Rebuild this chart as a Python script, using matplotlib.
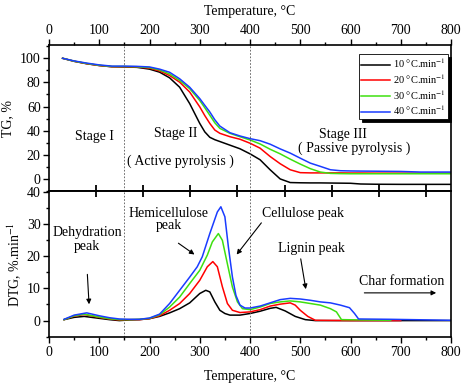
import numpy as np
import matplotlib
matplotlib.use('Agg')
import matplotlib.pyplot as plt
from matplotlib.ticker import MultipleLocator

plt.rcParams['font.family'] = ['Liberation Serif', 'DejaVu Serif']
plt.rcParams['mathtext.fontset'] = 'stix'

# %% Datos
rates = ['10', '20', '30', '40']
colores = ['#000000', '#ff0000', '#3ee010', '#1a3cff']

# TG (%)
T_tg = [27, 50, 75, 100, 125, 150, 175, 200, 220, 240, 260, 280, 300, 310, 320, 330, 340,
        360, 380, 400, 420, 440, 460, 480, 500, 520, 540, 560, 580, 600, 620, 650, 700, 740, 800]
tg_10 = [100, 97.5, 95.5, 94, 93, 92.8, 92.5, 91, 88.5, 83.8, 76, 62.4, 46, 39, 34.5, 32.5, 31,
         28, 25, 20.8, 15.9, 7.6, 0, -3, -3.2, -3.3, -3.3, -3.4, -3.5, -3.6, -4.2, -4.4, -4.5, -4.5, -4.5]
tg_20 = [100, 97.5, 95.5, 94, 93, 93, 92.8, 91.8, 89.5, 85.7, 80.2, 72, 59.7, 52.5, 46, 40.5, 37.8,
         35, 32.9, 29.6, 25.5, 18.6, 12.6, 7.6, 5.2, 5, 5, 5, 5, 4.9, 4.9, 4.8, 4.8, 4.8, 4.8]
tg_30 = [100, 97.6, 95.7, 94.2, 93.2, 93.2, 93, 92.3, 90.3, 87, 81.6, 74.8, 65, 59, 52.8, 46.5, 41.9,
         37.8, 35, 32.3, 29, 24.6, 20.8, 16.4, 12.3, 8.5, 5.7, 4.6, 4.4, 4.3, 4.3, 4.3, 4.3, 4.3, 4.3]
tg_40 = [100, 97.8, 96, 94.5, 93.5, 93.5, 93.3, 92.8, 91, 88.4, 83, 76, 66.6, 61, 55.5, 49, 43.8,
         38.3, 35.6, 33.4, 31.7, 28.8, 24.9, 21.4, 17.2, 13.1, 10.4, 7.6, 6.8, 6.6, 6.5, 6.4, 6.2, 5.7, 5.7]

# DTG (%/min)
T_d10 = [30, 50, 70, 100, 120, 140, 160, 180, 200, 220, 240, 260, 280, 300, 312, 320, 330, 340,
         350, 360, 380, 400, 420, 440, 452, 470, 490, 510, 530, 600, 700, 800]
dtg_10 = [0.3, 1.0, 1.3, 0.7, 0.3, 0.0, 0.2, 0.3, 0.6, 1.3, 2.4, 3.7, 5.5, 8.4, 9.4, 8.9, 5.8, 3.2,
          2.2, 1.7, 1.7, 2.2, 2.9, 3.8, 4.1, 3.0, 1.3, 0.3, 0.0, 0.0, 0.0, 0.0]
T_d20 = [30, 50, 70, 100, 120, 140, 160, 180, 200, 220, 240, 260, 280, 300, 315, 326, 335, 345,
         355, 365, 380, 400, 420, 440, 460, 480, 490, 500, 515, 530, 600, 700]
dtg_20 = [0.3, 1.4, 1.9, 1.0, 0.5, 0.2, 0.3, 0.3, 0.6, 1.5, 3.2, 5.3, 8.4, 12.5, 16.7, 18.3, 16.7, 10.5,
          5.3, 3.2, 2.5, 2.7, 3.4, 4.5, 5.1, 5.5, 4.8, 3.2, 1.3, 0.1, 0.0, 0.0]
T_d30 = [30, 50, 70, 100, 120, 140, 160, 180, 200, 220, 240, 260, 280, 300, 315, 325, 337, 345,
         355, 365, 375, 385, 400, 420, 440, 460, 480, 500, 520, 540, 560, 572, 582, 620, 680]
dtg_30 = [0.3, 1.5, 2.0, 1.1, 0.6, 0.3, 0.3, 0.4, 0.7, 1.8, 4.2, 7.3, 11.5, 15.6, 20.3, 24.4, 27.0, 24.9,
          17.6, 10.4, 5.8, 3.7, 3.4, 4.2, 5.3, 5.8, 6.1, 5.8, 5.3, 4.8, 3.7, 2.7, 0.3, 0.2, 0.1]
T_d40 = [30, 50, 75, 100, 120, 140, 160, 180, 200, 220, 240, 260, 280, 295, 305, 320, 335, 342,
         350, 357, 365, 372, 380, 390, 400, 420, 440, 460, 480, 500, 520, 540, 560, 580, 598, 608,
         616, 680, 800]
dtg_40 = [0.4, 1.7, 2.4, 1.5, 0.9, 0.5, 0.4, 0.4, 0.8, 2.0, 5.3, 9.4, 13.5, 16.7, 19.8, 27.0, 33.7, 35.3,
          32.2, 22.8, 13.5, 7.8, 4.8, 3.9, 3.9, 4.5, 5.5, 6.5, 6.9, 6.7, 6.3, 5.8, 5.5, 4.8, 4.0, 2.2,
          0.5, 0.4, 0.1]

tg_series = [tg_10, tg_20, tg_30, tg_40]
dtg_T = [T_d10, T_d20, T_d30, T_d40]
dtg_series = [dtg_10, dtg_20, dtg_30, dtg_40]

# marcas raras del borde entre paneles
ticks_medio = [93, 187, 281, 375, 469, 563, 657, 751]

# %% Graficos
fig = plt.figure(figsize=(4.74, 3.86), dpi=100)
ax1 = fig.add_axes([0.1034, 0.5052, 0.8481, 0.3782])
ax2 = fig.add_axes([0.1034, 0.1260, 0.8481, 0.3792])

for tg, c, r in zip(tg_series, colores, rates):
    ax1.plot(T_tg, tg, color=c, lw=1.1, label=r + r' °C.min$^{-1}$')
for T, d, c in zip(dtg_T, dtg_series, colores):
    ax2.plot(T, d, color=c, lw=1.1)

for ax in (ax1, ax2):
    ax.set_xlim(0, 800)
    for xv in (150, 400):
        ax.axvline(xv, color='#555555', lw=0.6, ls=(0, (2, 2)))
    for s in ax.spines.values():
        s.set_linewidth(1.2)
    ax.tick_params(which='both', direction='out', width=1.0, labelsize=10, pad=2)
    ax.tick_params(which='major', length=4)
    ax.tick_params(which='minor', length=2)
    ax.xaxis.set_major_locator(MultipleLocator(100))
    ax.xaxis.set_minor_locator(MultipleLocator(50))

ax1.set_ylim(-10, 111)
ax1.yaxis.set_major_locator(MultipleLocator(20))
ax1.yaxis.set_minor_locator(MultipleLocator(10))
ax1.xaxis.tick_top()
ax1.xaxis.set_label_position('top')
ax1.set_xlabel('Temperature, °C', fontsize=10, labelpad=6)
ax1.set_ylabel('TG, %', fontsize=10, labelpad=4)

ax2.set_ylim(-5.2, 40.2)
ax2.yaxis.set_major_locator(MultipleLocator(10))
ax2.yaxis.set_minor_locator(MultipleLocator(5))
ax2.set_xlabel('Temperature, °C', fontsize=10, labelpad=8)
ax2.set_ylabel('DTG, %.min$^{-1}$', fontsize=10, labelpad=2)

sec = ax2.secondary_xaxis('top')
sec.set_xticks(ticks_medio)
sec.set_xticklabels([])
sec.tick_params(direction='inout', length=8, width=1.3)
sec.spines['top'].set_linewidth(1.2)

leg = ax1.legend(loc='upper right', bbox_to_anchor=(0.993, 0.935), fontsize=7.5,
                 frameon=True, fancybox=False, shadow={'color': 'black', 'alpha': 1},
                 edgecolor='black', framealpha=1, handlelength=2.8,
                 borderpad=0.2, labelspacing=0.2, handletextpad=0.3, borderaxespad=0)
leg.get_frame().set_linewidth(0.6)

# textos panel TG
fs = 10
ax1.text(91, 35, 'Stage I', ha='center', va='center', fontsize=fs)
ax1.text(252, 38, 'Stage II', ha='center', va='center', fontsize=fs)
ax1.text(261, 15, '( Active pyrolysis )', ha='center', va='center', fontsize=fs)
ax1.text(584, 37, 'Stage III', ha='center', va='center', fontsize=fs)
ax1.text(608, 25.5, '( Passive pyrolysis )', ha='center', va='center', fontsize=fs)

# textos panel DTG
flecha = dict(arrowstyle='-|>', color='black', lw=0.8, mutation_scale=7)
ax2.text(76, 25.3, 'Dehydration\npeak', ha='center', va='center', fontsize=fs, linespacing=1.1)
ax2.annotate('', xy=(80, 4.2), xytext=(76, 15.2), arrowprops=flecha)
ax2.text(238, 31.5, 'Hemicellulose\npeak', ha='center', va='center', fontsize=fs, linespacing=0.9)
ax2.annotate('', xy=(294, 20), xytext=(253, 24.5), arrowprops=flecha)
ax2.text(506, 33.3, 'Cellulose peak', ha='center', va='center', fontsize=fs)
ax2.annotate('', xy=(370, 19.8), xytext=(426, 31), arrowprops=flecha)
ax2.text(523, 22.4, 'Lignin peak', ha='center', va='center', fontsize=fs)
ax2.annotate('', xy=(512, 8.9), xytext=(500, 20), arrowprops=flecha)
ax2.text(702, 12, 'Char formation', ha='center', va='center', fontsize=fs)
ax2.annotate('', xy=(776, 8.6), xytext=(622, 8.6), arrowprops=flecha)

fig.savefig('out.png', dpi=100)
